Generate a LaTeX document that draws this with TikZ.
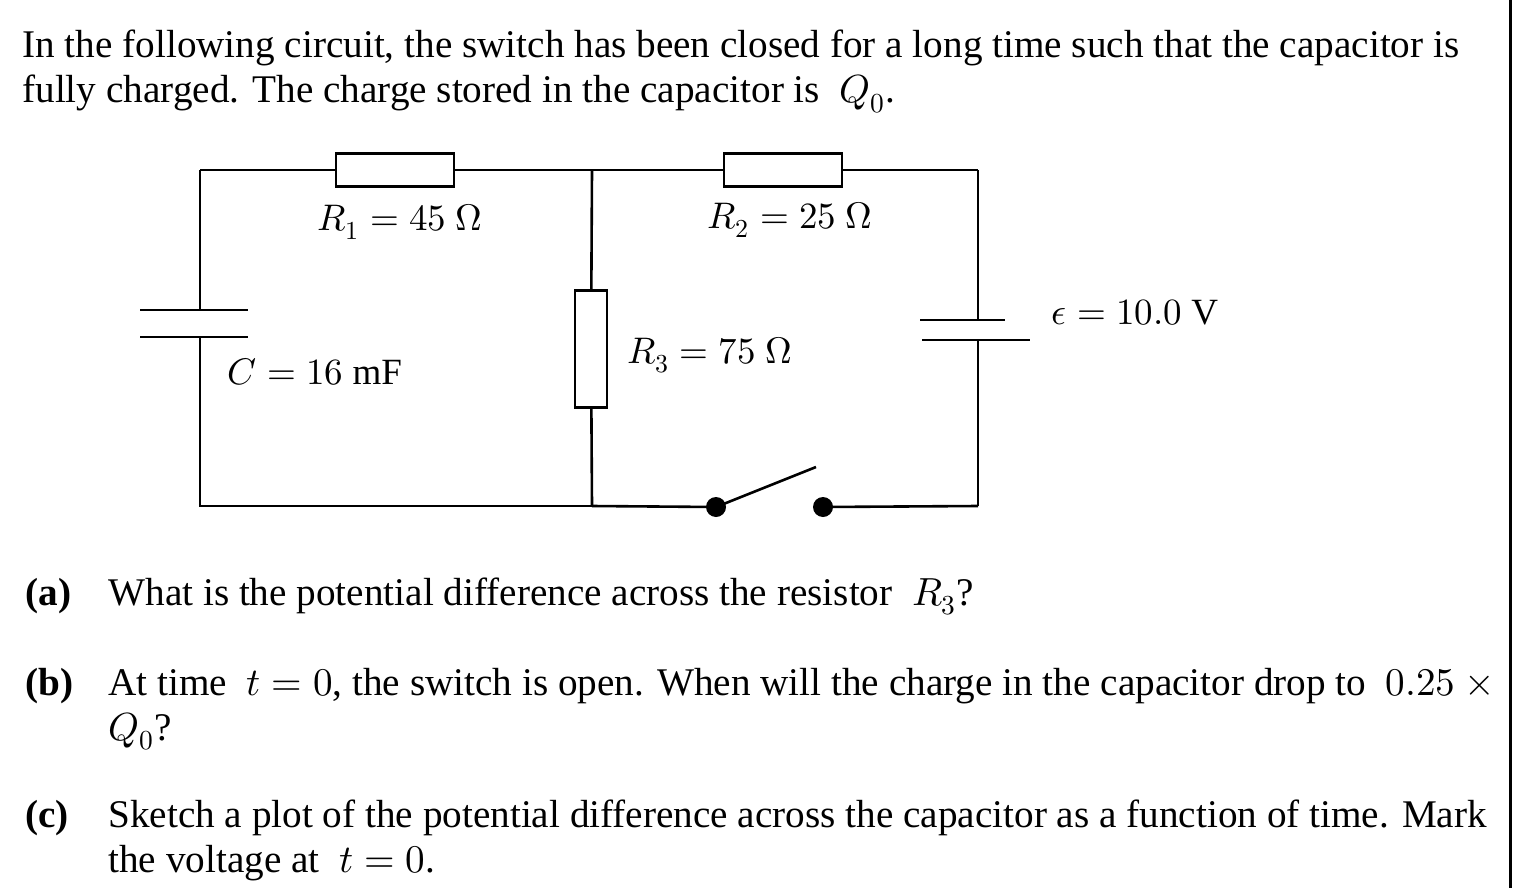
\documentclass[tikz,border=0pt]{standalone}
\usepackage{fontspec}
\usepackage{unicode-math}
\setmainfont{Liberation Serif}
\setmathfont{Latin Modern Math}
\tikzset{w/.style={line width=1.3pt},lbl/.style={inner sep=0pt,font=\fontsize{18.5}{22.5}\selectfont},
 para/.style={inner sep=0pt,anchor=base west,font=\fontsize{19.6}{22.5}\selectfont}}
\begin{document}
\begin{tikzpicture}[x=0.5pt,y=-0.5pt]
\useasboundingbox (0,0) rectangle (1519,888);
\fill[white] (0,0) rectangle (1519,888);
\draw[line width=1.5pt] (1510,0) -- (1510,888);
\node[para] (intro1) at (22,58) {In the following circuit, the switch has been closed for a long time such that the capacitor is};
\node[para] (intro2) at (22,103) {fully charged. The charge stored in the capacitor is~~$Q_0$.};
% nodes
\coordinate (tl) at (200,170); \coordinate (tm) at (592,170); \coordinate (tr) at (978,170);
\coordinate (bl) at (200,506); \coordinate (bm) at (592,506); \coordinate (br) at (978,506);
\node[draw,w,minimum width=59pt,minimum height=16.5pt,inner sep=0] (R1) at (395,170) {};
\node[draw,w,minimum width=59pt,minimum height=16.5pt,inner sep=0] (R2) at (783,170) {};
\node[draw,w,minimum width=16pt,minimum height=58.5pt,inner sep=0] (R3) at (591,349) {};
\coordinate (c1) at (200,310); \coordinate (c2) at (200,337);
\coordinate (b1) at (978,320); \coordinate (b2) at (978,340);
\draw[w] (tl) -- (R1) -- (tm) -- (R2) -- (tr);
\draw[w] (tl) -- (c1); \draw[w] (c2) -- (bl) -- (bm);
\draw[w] (tm) -- (R3) -- (bm);
\draw[w] (tr) -- (b1); \draw[w] (b2) -- (br);
\draw[w] (140,310) -- (248,310); \draw[w] (140,337) -- (248,337);
\draw[w] (920,320) -- (1005,320); \draw[w] (922,340) -- (1030,340);
\coordinate (s1) at (716,507); \coordinate (s2) at (823,507);
\draw[w] (bm) -- (s1) -- (816,467);
\draw[w] (s2) -- (br);
\fill (s1) circle (5pt); \fill (s2) circle (5pt);
\node[lbl] (L1) at (400,222) {$R_1=45\ \Omega$};
\node[lbl] (L2) at (790,220) {$R_2=25\ \Omega$};
\node[lbl] (L3) at (710,355) {$R_3=75\ \Omega$};
\node[lbl] (LC) at (315,372) {$C=16\ \mathrm{mF}$};
\node[lbl] (LE) at (1135,313) {$\epsilon=10.0\ \mathrm{V}$};
\node[para] (qa) at (25,605) {\textbf{(a)}};
\node[para] (ta) at (108,605) {What is the potential difference across the resistor~~$R_3$?};
\node[para] (qb) at (25,695) {\textbf{(b)}};
\node[para] (tb1) at (108,695) {At time~~$t=0$, the switch is open. When will the charge in the capacitor drop to~~$0.25\mathbin{\times}{}$};
\node[para] (tb2) at (108,740) {$Q_0$?};
\node[para] (qc) at (25,827) {\textbf{(c)}};
\node[para] (tc1) at (108,827) {Sketch a plot of the potential difference across the capacitor as a function of time. Mark};
\node[para] (tc2) at (108,872) {the voltage at~~$t=0$.};
\end{tikzpicture}
\end{document}
